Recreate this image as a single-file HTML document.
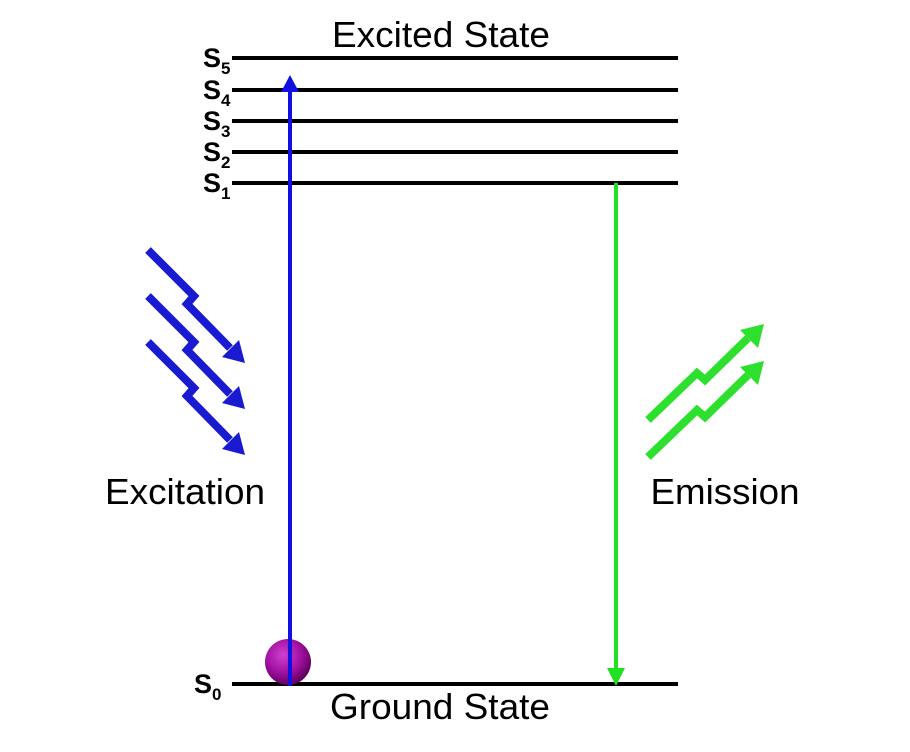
<!DOCTYPE html>
<html><head><style>
html,body{margin:0;padding:0;background:#fff;}
svg{display:block;}
text{font-family:"Liberation Sans",Arial,sans-serif;}
</style></head><body>
<svg width="910" height="752" viewBox="0 0 910 752" xmlns="http://www.w3.org/2000/svg">
<defs>
<radialGradient id="ball" cx="40%" cy="35%" r="65%">
<stop offset="0" stop-color="#d040d0"/><stop offset="0.6" stop-color="#a010a0"/><stop offset="1" stop-color="#600060"/>
</radialGradient>
</defs>
<g stroke="#000" stroke-width="4">
<line x1="232" y1="58" x2="678" y2="58"/>
<line x1="232" y1="90" x2="678" y2="90"/>
<line x1="232" y1="121" x2="678" y2="121"/>
<line x1="232" y1="152" x2="678" y2="152"/>
<line x1="232" y1="183" x2="678" y2="183"/>
<line x1="232" y1="684" x2="678" y2="684"/>
</g>
<g font-weight="bold" font-size="27" fill="#000">
<text x="203" y="67" textLength="18" lengthAdjust="spacingAndGlyphs">S</text><text x="221" y="74" font-size="17">5</text>
<text x="203" y="99" textLength="18" lengthAdjust="spacingAndGlyphs">S</text><text x="221" y="106" font-size="17">4</text>
<text x="203" y="130" textLength="18" lengthAdjust="spacingAndGlyphs">S</text><text x="221" y="137" font-size="17">3</text>
<text x="203" y="161" textLength="18" lengthAdjust="spacingAndGlyphs">S</text><text x="221" y="168" font-size="17">2</text>
<text x="203" y="192" textLength="18" lengthAdjust="spacingAndGlyphs">S</text><text x="221" y="199" font-size="17">1</text>
<text x="194" y="693" textLength="18" lengthAdjust="spacingAndGlyphs">S</text><text x="212" y="700" font-size="17">0</text>
</g>
<circle cx="288" cy="662" r="23" fill="url(#ball)"/>
<line x1="290" y1="686" x2="290" y2="90" stroke="#1010e0" stroke-width="4"/>
<polygon points="290,75 281,92 299,92" fill="#1010e0"/>
<line x1="616" y1="183" x2="616" y2="672" stroke="#22e022" stroke-width="4"/>
<polygon points="616,686 607,668 625,668" fill="#22e022"/>
<g fill="none" stroke="#1a1ad0" stroke-width="8" stroke-linejoin="miter">
<polyline points="148,250 194,296 187,304 230,348"/>
<polyline points="148,296 194,342 187,350 230,394"/>
<polyline points="148,342 194,388 187,396 230,440"/>
</g>
<g fill="#1a1ad0">
<polygon points="245,363 222,357 239,340"/>
<polygon points="245,409 222,403 239,386"/>
<polygon points="245,455 222,449 239,432"/>
</g>
<g fill="none" stroke="#2ee02e" stroke-width="8">
<polyline points="648,420 697,373 705,380 748,338"/>
<polyline points="648,457 697,410 705,417 748,375"/>
</g>
<g fill="#2ee02e">
<polygon points="764,324 740,330 758,348"/>
<polygon points="764,361 740,367 758,385"/>
</g>
<g font-size="36" fill="#000">
<text x="441" y="47" text-anchor="middle" textLength="218" lengthAdjust="spacingAndGlyphs">Excited State</text>
<text x="440" y="719" text-anchor="middle" textLength="220" lengthAdjust="spacingAndGlyphs">Ground State</text>
<text x="185" y="504" text-anchor="middle" textLength="160" lengthAdjust="spacingAndGlyphs">Excitation</text>
<text x="725" y="504" text-anchor="middle" textLength="149" lengthAdjust="spacingAndGlyphs">Emission</text>
</g>
</svg>
</body></html>
